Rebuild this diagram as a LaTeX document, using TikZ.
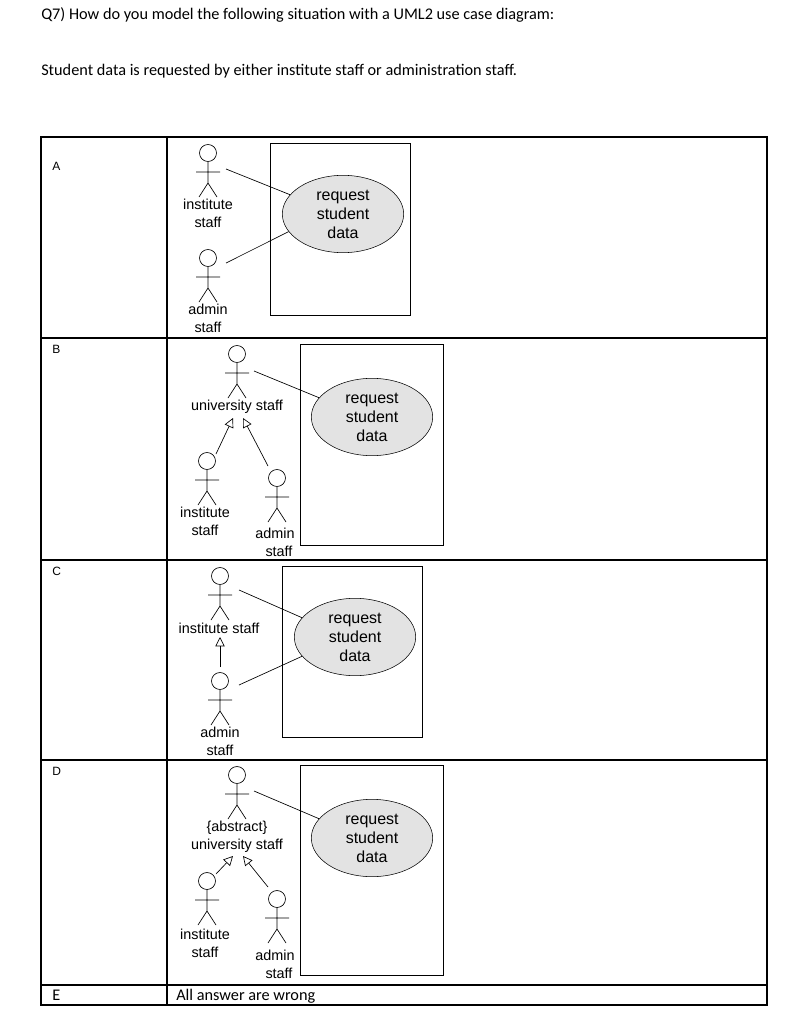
\documentclass[tikz,border=0pt]{standalone}
\usepackage{fontspec}
\setmainfont{Carlito}
\newfontfamily\arial{Liberation Sans}
\usetikzlibrary{arrows.meta,shapes.geometric}
\begin{document}
\begin{tikzpicture}[x=0.75pt,y=-0.75pt,
  lbl/.style={font=\arial\fontsize{10.8}{13.5}\selectfont,align=center,inner sep=0pt},
  txt/.style={font=\fontsize{12.2}{14}\selectfont,anchor=west,inner sep=0pt},
  uc/.style={ellipse,draw,fill=gray!22,minimum width=91pt,minimum height=58pt,align=center,inner sep=0pt,font=\arial\fontsize{12}{14.2}\selectfont},
  sysbox/.style={draw,line width=0.6pt},
  assoc/.style={draw,line width=0.5pt},
  gen/.style={draw,line width=0.5pt,-{Triangle[open,length=7pt,width=7pt]}},
  grid/.style={draw,line width=1pt},
  actor/.pic={\draw[line width=0.5pt] (0,0) circle (8.5) (0,8.5) -- (0,30) (-12,19) -- (12,19) (-9,44) -- (0,30) -- (9,44);}
]
\useasboundingbox[fill=white] (0,0) rectangle (805,1024);
\node[txt] (t1) at (41,15) {Q7) How do you model the following situation with a UML2 use case diagram:};
\node[txt] (t2) at (41,71) {Student data is requested by either institute staff or administration staff.};
% table
\draw[grid] (41,137) rectangle (767,1005);
\draw[grid] (167,137) -- (167,1005);
\foreach \yy in {338,560,760,985} \draw[grid] (41,\yy) -- (767,\yy);
\node[txt,font=\arial\fontsize{9}{11}\selectfont] (la) at (52,166) {A};
\node[txt,font=\arial\fontsize{9}{11}\selectfont] (lb) at (52,349) {B};
\node[txt,font=\arial\fontsize{9}{11}\selectfont] (lc) at (52,571) {C};
\node[txt,font=\arial\fontsize{9}{11}\selectfont] (ld) at (52,771) {D};
\node[txt] (le) at (52,995) {E};
\node[txt] (lee) at (176,996) {All answer are wrong};
% A
\draw[sysbox] (270,143) rectangle (410,315);
\node[uc] (ucA) at (343,214) {request\\student\\data};
\pic at (208,153) {actor}; \coordinate (a1) at (226,169);
\node[lbl] (a1l) at (208,213) {institute\\staff};
\pic at (208,258) {actor}; \coordinate (a2) at (226,263);
\node[lbl] (a2l) at (208,318) {admin\\staff};
\draw[assoc] (a1) -- (ucA.160); \draw[assoc] (a2) -- (ucA.198);
% B
\draw[sysbox] (300,344) rectangle (443,545);
\node[uc] (ucB) at (372,417) {request\\student\\data};
\pic at (237,354) {actor}; \coordinate (b0) at (254,371);
\node[lbl] (b0l) at (237,407) {university staff};
\draw[assoc] (b0) -- (ucB.160);
\pic at (207,461) {actor}; \coordinate (b1) at (216,454); \coordinate (b1t) at (233,418);
\node[lbl] (b1l) at (205,521) {institute\\staff};
\pic at (277,478) {actor}; \coordinate (b2) at (268,466); \coordinate (b2t) at (243,418);
\node[lbl] (b2l) at (275,542) {admin\\\hspace*{6pt}staff};
\draw[gen] (b1) -- (b1t); \draw[gen] (b2) -- (b2t);
% C
\draw[sysbox] (282,566) rectangle (422,737);
\node[uc] (ucC) at (355,637) {request\\student\\data};
\pic at (220,576) {actor}; \coordinate (c1) at (239,590);
\node[lbl] (c1l) at (219,628) {institute staff};
\pic at (220,681) {actor}; \coordinate (c2) at (239,685);
\coordinate (c2t) at (220,637); \coordinate (c2b) at (220,667);
\draw[gen] (c2b) -- (c2t);
\node[lbl] (c2l) at (220,741) {admin\\staff};
\draw[assoc] (c1) -- (ucC.160); \draw[assoc] (c2) -- (ucC.200);
% D
\draw[sysbox] (300,765) rectangle (443,975);
\node[uc] (ucD) at (372,838) {request\\student\\data};
\pic at (237,775) {actor}; \coordinate (d0) at (254,791);
\node[lbl] (d0l) at (237,837) {\{abstract\}\\university staff};
\draw[assoc] (d0) -- (ucD.160);
\pic at (207,881) {actor}; \coordinate (d1) at (216,874); \coordinate (d1t) at (233,856);
\node[lbl] (d1l) at (205,943) {institute\\staff};
\pic at (277,899) {actor}; \coordinate (d2) at (268,887); \coordinate (d2t) at (243,856);
\node[lbl] (d2l) at (275,964) {admin\\\hspace*{6pt}staff};
\draw[gen] (d1) -- (d1t); \draw[gen] (d2) -- (d2t);
\end{tikzpicture}
\end{document}
